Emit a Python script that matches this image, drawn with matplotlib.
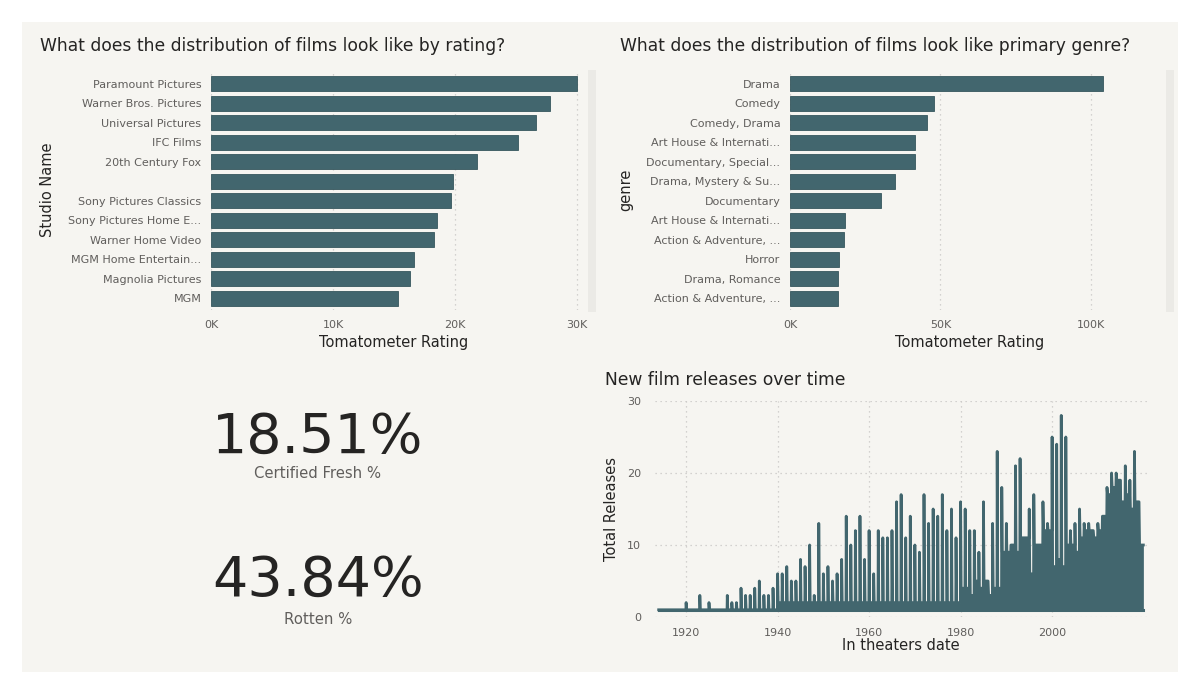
import numpy as np
import matplotlib
matplotlib.use("Agg")
import matplotlib.pyplot as plt
from matplotlib.patches import Rectangle

# %% data
studios = [
    "Paramount Pictures", "Warner Bros. Pictures", "Universal Pictures", "IFC Films",
    "20th Century Fox", "", "Sony Pictures Classics", "Sony Pictures Home E...",
    "Warner Home Video", "MGM Home Entertain...", "Magnolia Pictures", "MGM",
]
studio_rating = [30000, 27750, 26600, 25200, 21800, 19850, 19700, 18500, 18300, 16600, 16300, 15300]

genres = [
    "Drama", "Comedy", "Comedy, Drama", "Art House & Internati...", "Documentary, Special...",
    "Drama, Mystery & Su...", "Documentary", "Art House & Internati...",
    "Action & Adventure, ...", "Horror", "Drama, Romance", "Action & Adventure, ...",
]
genre_rating = [103900, 47900, 45600, 41700, 41700, 34800, 30300, 18300, 18100, 16300, 16000, 15800]

kpi_values = ["18.51%", "43.84%"]
kpi_labels = ["Certified Fresh %", "Rotten %"]

years = np.arange(1914, 2020)
# yearly spike (releases dated on the first day of the year)
peaks = [1, 1, 1, 1, 1, 1, 2, 1, 1, 3, 1, 2, 1, 1, 1, 3, 2, 2, 4, 3,
         3, 4, 5, 3, 3, 4, 6, 6, 7, 5, 5, 8, 7, 10, 3, 13, 6, 7, 5, 6,
         8, 14, 10, 12, 14, 8, 12, 6, 12, 11, 11, 12, 16, 17, 11, 14, 10, 9, 17, 13,
         15, 14, 17, 12, 15, 11, 16, 15, 12, 12, 9, 16, 5, 13, 23, 18, 13, 10, 21, 22,
         11, 15, 17, 10, 16, 13, 25, 24, 28, 25, 12, 13, 15, 13, 13, 12, 13, 14, 18, 20,
         20, 16, 21, 19, 23, 16]
# typical level for the rest of the year
bases = [1] * 26 + [2] * 40 + [
    4, 4, 3, 5, 4, 5, 3, 4, 4, 9, 9, 10, 9, 11, 11, 6, 10, 10, 12, 12,
    7, 8, 7, 10, 10, 9, 11, 12, 12, 11, 12, 14, 17, 18, 19, 16, 17, 15, 16, 10]
min_releases = 1

# %% style
W, H = 1200, 694
bg = "#F6F5F1"
bar_c = "#42666E"
grid_c = "#C8C6C4"
tick_c = "#605E5C"
text_c = "#252423"
plt.rcParams["font.family"] = ["DejaVu Sans"]

fig = plt.figure(figsize=(W / 100, H / 100), dpi=100, facecolor="white")
fig.patches.append(Rectangle((22 / W, 1 - 672 / H), 1156 / W, 650 / H,
                             transform=fig.transFigure, facecolor=bg, edgecolor="none", zorder=-10))


def px_axes(l, t, r, b):
    ax = fig.add_axes([l / W, 1 - b / H, (r - l) / W, (b - t) / H])
    ax.set_facecolor("none")
    for s in ax.spines.values():
        s.set_visible(False)
    return ax


def ftext(x, y, s, **kw):
    kw.setdefault("color", text_c)
    kw.setdefault("va", "center")
    fig.text(x / W, 1 - y / H, s, **kw)


def bar_panel(box, names, vals, xmax, ticks, scroll_x):
    ax = px_axes(*box)
    pos = np.arange(len(names))
    ax.barh(pos, vals, height=0.78, color=bar_c, edgecolor="#36565D", linewidth=0.6, zorder=2)
    ax.set_ylim(len(names) - 0.4, -0.6)
    ax.set_xlim(0, xmax)
    ax.set_yticks(pos)
    ax.set_yticklabels(names)
    ax.set_xticks(ticks)
    ax.set_xticklabels([f"{int(t / 1000)}K" for t in ticks])
    ax.tick_params(length=0, labelsize=8, colors=tick_c)
    ax.tick_params(axis="y", pad=7)
    ax.tick_params(axis="x", pad=7)
    ax.grid(axis="x", color=grid_c, linestyle=(0, (1, 3)), linewidth=0.9, zorder=0)
    ax.set_axisbelow(True)
    fig.patches.append(Rectangle((scroll_x / W, 1 - 312 / H), 8 / W, 242 / H,
                                 transform=fig.transFigure, facecolor="#EBEAE6",
                                 edgecolor="none", zorder=-5))
    return ax


# %% studio bars
bar_panel((211, 72, 588, 310), studios, studio_rating, 30900, [0, 10000, 20000, 30000], 588)
ftext(40, 46, "What does the distribution of films look like by rating?", fontsize=12.3)
ftext(394, 342, "Tomatometer Rating", fontsize=10.5, ha="center")
ftext(47, 190, "Studio Name", fontsize=10.5, ha="center", rotation=90)

# %% genre bars
bar_panel((790, 72, 1160, 310), genres, genre_rating, 123000, [0, 50000, 100000], 1166)
ftext(620, 46, "What does the distribution of films look like primary genre?", fontsize=12.3)
ftext(970, 342, "Tomatometer Rating", fontsize=10.5, ha="center")
ftext(626, 190, "genre", fontsize=10.5, ha="center", rotation=90)

# %% KPI cards
for i, (v, lab) in enumerate(zip(kpi_values, kpi_labels)):
    ftext(318, 438 + i * 143, v, fontsize=40, ha="center")
    ftext(318, 474 + i * 145, lab, fontsize=10.7, ha="center", color=tick_c)

# %% releases over time
ax = px_axes(655, 401, 1150, 617)
xs, ys = [], []
for yr, pk, bs in zip(years, peaks, bases):
    xs += [yr, yr + 0.12, yr + 0.95]
    ys += [pk, bs, bs]
ax.fill_between(xs, ys, min_releases, color=bar_c, linewidth=0, zorder=2)
ax.plot(xs, ys, color=bar_c, linewidth=2, solid_joinstyle="round", zorder=3)
ax.plot([xs[0], xs[-1]], [min_releases, min_releases], color=bar_c, linewidth=2.2, zorder=3)
ax.set_xlim(1913.2, 2021.4)
ax.set_ylim(0, 30)
ax.set_xticks([1920, 1940, 1960, 1980, 2000])
ax.set_yticks([0, 10, 20, 30])
ax.tick_params(length=0, labelsize=8, colors=tick_c)
ax.tick_params(axis="x", pad=8)
ax.tick_params(axis="y", pad=10)
ax.grid(color=grid_c, linestyle=(0, (1, 3)), linewidth=0.9, zorder=0)
ax.set_axisbelow(True)
ftext(605, 380, "New film releases over time", fontsize=12.3)
ftext(901, 645, "In theaters date", fontsize=10.5, ha="center")
ftext(612, 509, "Total Releases", fontsize=10.5, ha="center", rotation=90)

fig.savefig("out.png", dpi=100, facecolor="white")
